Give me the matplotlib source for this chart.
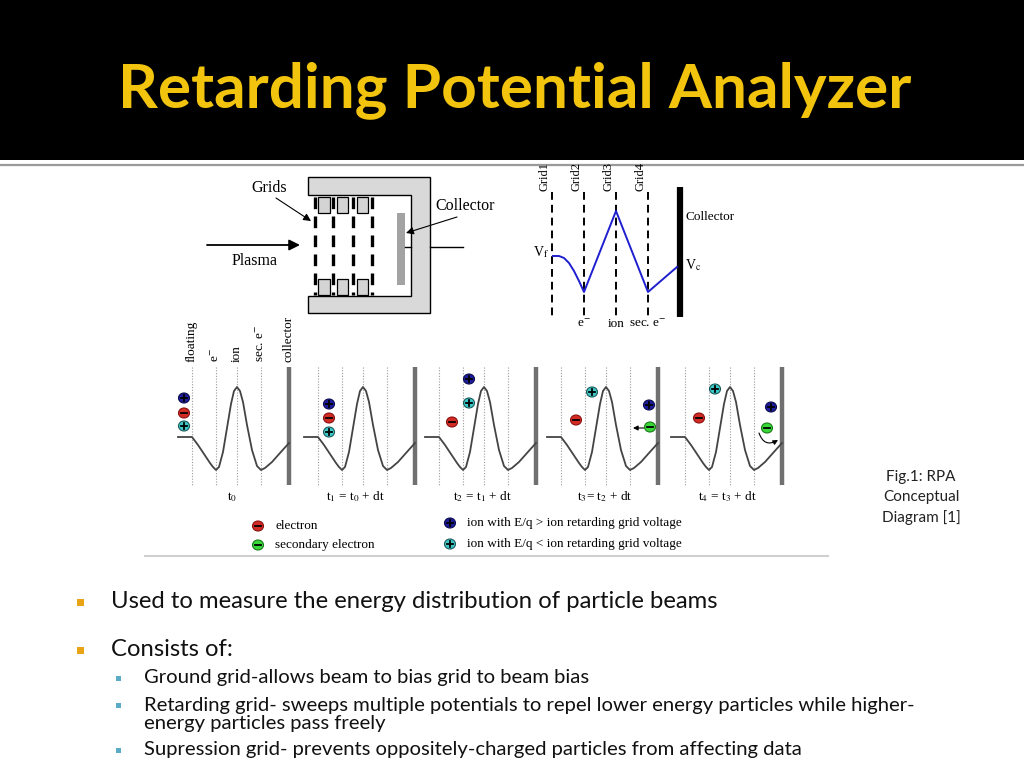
"""Slide: Retarding Potential Analyzer, with the RPA conceptual diagram."""
import matplotlib
matplotlib.use("Agg")
import matplotlib.pyplot as plt
import matplotlib.patches as mpatches

plt.rcParams["mathtext.fontset"] = "stix"

SANS = "Lato"
SERIF = "Liberation Serif"

# ---- slide text -------------------------------------------------------------
TITLE = "Retarding Potential Analyzer"
BULLETS = ["Used to measure the energy distribution of particle beams",
           "Consists of:"]
BULLET_Y = [602, 650]
SUB_BULLETS = ["Ground grid-allows beam to bias grid to beam bias",
               "Retarding grid- sweeps multiple potentials to repel lower energy particles while higher-",
               "energy particles pass freely",
               "Supression grid- prevents oppositely-charged particles from affecting data"]
SUB_Y = [678, 705, 724, 750]
SUB_MARK = [True, True, False, True]
CAPTION = ["Fig.1: RPA", "Conceptual", "Diagram [1]"]
CAPTION_Y = [477, 497, 518]

# ---- schematic (top left), slide pixels ------------------------------------
HOUSING_X = [308, 430, 430, 308, 308, 411, 411, 308]
HOUSING_Y = [177, 177, 313, 313, 296, 296, 195, 195]
GRID_X = [315, 333, 353, 372]
INSUL_X0 = [318, 337, 357]
INSUL_X1 = [330, 348, 368]

# ---- potential profile (top right) -----------------------------------------
PROF_GRID_X = [552, 584, 616, 648]
PROF_GRID_LABEL = ["Grid1", "Grid2", "Grid3", "Grid4"]
PROF_BOTTOM_LABEL = [None, r"e$^{-}$", "ion", r"sec. e$^{-}$"]
PROF_X = [553, 559, 564, 569, 574, 579, 584, 616, 648, 677]
PROF_Y = [256, 256, 258, 263, 271, 281, 292, 211, 292, 267]

# ---- time-step panels (bottom) ---------------------------------------------
PANEL_X = [192, 318, 439, 561, 685]
LINE_DX = [0, 24, 45, 69]
COLLECTOR_DX = 97
WAVE_DX = [-14, 0, 6, 12, 18, 21, 24, 27, 31, 35, 39, 42, 45, 48, 51, 55,
           60, 65, 69, 73, 80, 88, 97]
WAVE_Y = [437, 437, 445, 454, 463, 467, 470, 467, 452, 428, 404, 391, 387,
          391, 402, 425, 450, 466, 470, 468, 462, 453, 443]
PANEL1_LABELS = ["floating", r"e$^{-}$", "ion", r"sec. e$^{-}$"]
TIME_LABELS = [r"t$_0$", r"t$_1$ = t$_0$ + dt", r"t$_2$ = t$_1$ + dt",
               r"t$_3$= t$_2$ + dt", r"t$_4$ = t$_3$ + dt"]
TIME_X = [232, 355, 482, 605, 727]

# particles: x, y, kind
PART_X = [184, 184, 184, 329, 329, 329, 469, 469, 452, 592, 576, 649, 650,
          715, 699, 771, 767]
PART_Y = [398, 413, 426, 404, 418, 432, 379, 403, 422, 392, 420, 405, 427,
          389, 418, 407, 428]
PART_KIND = ["fast", "e", "slow", "fast", "e", "slow", "fast", "slow", "e",
             "slow", "e", "fast", "sec", "slow", "e", "fast", "sec"]

LEGEND_X = [258, 258, 450, 450]
LEGEND_Y = [526, 545, 523, 544]
LEGEND_KIND = ["e", "sec", "fast", "slow"]
LEGEND_LABEL = ["electron", "secondary electron",
                "ion with E/q > ion retarding grid voltage",
                "ion with E/q < ion retarding grid voltage"]

KIND_FACE = {"e": "#d42a24", "sec": "#38d838", "fast": "#1c1c9c", "slow": "#3cc8c8"}
KIND_EDGE = {"e": "#8a1010", "sec": "#1a7a1a", "fast": "#0a0a50", "slow": "#1a5a5a"}
KIND_SIGN = {"e": "-", "sec": "-", "fast": "+", "slow": "+"}


def fit_text(ax, x, y, s, width, **kw):
    t = ax.text(x, y, s, **kw)
    r = ax.figure.canvas.get_renderer()
    w = t.get_window_extent(r).width
    t.set_fontsize(t.get_fontsize() * width / w)
    return t


def particle(ax, x, y, kind):
    ax.add_patch(mpatches.Ellipse((x, y), 11, 10, facecolor=KIND_FACE[kind],
                                  edgecolor=KIND_EDGE[kind], lw=0.8, zorder=5))
    ax.plot([x - 3, x + 3], [y, y], color="k", lw=1.3, zorder=6)
    if KIND_SIGN[kind] == "+":
        ax.plot([x, x], [y - 3, y + 3], color="k", lw=1.3, zorder=6)


def arrow(ax, start, end, lw=1.0, scale=10, rad=0.0):
    ax.annotate("", xy=end, xytext=start,
                arrowprops=dict(arrowstyle="-|>", color="k", lw=lw,
                                mutation_scale=scale, shrinkA=0, shrinkB=0,
                                connectionstyle=f"arc3,rad={rad}"))


def draw_schematic(ax):
    ax.add_patch(mpatches.Polygon(list(zip(HOUSING_X, HOUSING_Y)), closed=True,
                                  facecolor="#d9d9d9", edgecolor="k", lw=1.0))
    for x0, x1 in zip(INSUL_X0, INSUL_X1):
        for y0, y1 in [(197, 213), (279, 295)]:
            ax.add_patch(mpatches.Rectangle((x0, y0), x1 - x0, y1 - y0,
                                            facecolor="#d4d4d4", edgecolor="k", lw=0.9))
    for gx in GRID_X:
        ax.plot([gx, gx], [197, 295], color="k", lw=2.4, dashes=(3.5, 2.2))
    ax.add_patch(mpatches.Rectangle((397, 213), 8, 72, facecolor="#a3a3a3", edgecolor="none"))
    ax.plot([405, 411], [247, 247], color="k", lw=1.0)
    ax.plot([430, 463], [247, 247], color="k", lw=1.0)
    arrow(ax, (207, 245), (300, 245), lw=1.3, scale=16)
    arrow(ax, (276, 198), (311, 221), lw=0.8, scale=11)
    arrow(ax, (457, 217), (406, 233), lw=0.8, scale=11)
    ax.text(232, 261, "Plasma", family=SERIF, fontsize=11.5, va="center")
    ax.text(251, 188, "Grids", family=SERIF, fontsize=11.5, va="center")
    ax.text(435, 206, "Collector", family=SERIF, fontsize=11.5, va="center")


def draw_profile(ax):
    for gx, lab, blab in zip(PROF_GRID_X, PROF_GRID_LABEL, PROF_BOTTOM_LABEL):
        ax.plot([gx, gx], [192, 317], color="k", lw=1.4, dashes=(4, 2.6))
        ax.text(gx - 8, 191, lab, family=SERIF, fontsize=9, rotation=90,
                ha="center", va="bottom")
        if blab:
            ax.text(gx, 324, blab, family=SERIF, fontsize=9.5, ha="center", va="center")
    ax.plot([680, 680], [187, 317], color="k", lw=4.5, solid_capstyle="butt")
    ax.plot(PROF_X, PROF_Y, color="#1f1fd0", lw=1.4)
    ax.text(686, 217, "Collector", family=SERIF, fontsize=9.5, va="center")
    ax.text(533, 252, r"V$_{\rm f}$", family=SERIF, fontsize=10, va="center")
    ax.text(685, 265, r"V$_{\rm c}$", family=SERIF, fontsize=10, va="center")


def draw_panels(ax):
    for k, px in enumerate(PANEL_X):
        for dx in LINE_DX:
            ax.plot([px + dx, px + dx], [367, 485], color="#9a9a9a", lw=0.8,
                    dashes=(1, 1.5))
        cx = px + COLLECTOR_DX
        ax.plot([cx, cx], [367, 485], color="#707070", lw=3.2, solid_capstyle="butt")
        ax.plot([px + d for d in WAVE_DX], WAVE_Y, color="#444444", lw=1.3)
        ax.text(TIME_X[k], 497, TIME_LABELS[k], family=SERIF, fontsize=9.5,
                ha="center", va="center")
    for dx, lab in zip(LINE_DX, PANEL1_LABELS):
        ax.text(PANEL_X[0] + dx, 362, lab, family=SERIF, fontsize=9.5, rotation=90,
                ha="center", va="bottom")
    ax.text(PANEL_X[0] + COLLECTOR_DX, 362, "collector", family=SERIF, fontsize=9.5,
            rotation=90, ha="center", va="bottom")
    for x, y, kind in zip(PART_X, PART_Y, PART_KIND):
        particle(ax, x, y, kind)
    arrow(ax, (644, 428), (633, 428), lw=0.8, scale=7)
    arrow(ax, (759, 433), (778, 440), lw=0.8, scale=7, rad=0.6)
    for x, y, kind, lab in zip(LEGEND_X, LEGEND_Y, LEGEND_KIND, LEGEND_LABEL):
        particle(ax, x, y, kind)
        ax.text(x + 17, y, lab, family=SERIF, fontsize=9.5, va="center")


def main():
    fig = plt.figure(figsize=(10.24, 7.68), dpi=100)
    fig.patch.set_facecolor("white")
    ax = fig.add_axes([0, 0, 1, 1])
    ax.set_xlim(0, 1024)
    ax.set_ylim(768, 0)
    ax.axis("off")

    # header band
    ax.add_patch(mpatches.Rectangle((0, 0), 1024, 160, facecolor="black", edgecolor="none"))
    ax.plot([0, 1024], [164.5, 164.5], color="#9a9a9a", lw=1.6)
    fit_text(ax, 515, 107, TITLE, 794, family=SANS, fontweight="bold",
             fontsize=42, color="#f2c40e", ha="center", va="baseline")

    draw_schematic(ax)
    draw_profile(ax)
    draw_panels(ax)
    ax.plot([145, 828], [556, 556], color="#d0d0d0", lw=1.5)

    # caption
    for s, y in zip(CAPTION, CAPTION_Y):
        ax.text(921, y, s, family=SANS, fontsize=11, ha="center", va="center",
                color="#222222")

    # bullets
    t0 = fit_text(ax, 111, BULLET_Y[0], BULLETS[0], 611, family=SANS, fontsize=14,
                  va="center", color="#111111")
    for s, y in zip(BULLETS[1:], BULLET_Y[1:]):
        ax.text(111, y, s, family=SANS, fontsize=t0.get_fontsize(), va="center",
                color="#111111")
    for y in BULLET_Y:
        ax.add_patch(mpatches.Rectangle((76.5, y - 3.5), 7, 7, facecolor="#e8a317",
                                        edgecolor="none"))
    # size the sub-bullets on the long line so it ends where the slide's does
    t1 = fit_text(ax, 144, SUB_Y[1], SUB_BULLETS[1], 770, family=SANS, fontsize=12,
                  va="center", color="#111111")
    for i, (s, y) in enumerate(zip(SUB_BULLETS, SUB_Y)):
        if i == 1:
            continue
        ax.text(144, y, s, family=SANS, fontsize=t1.get_fontsize(), va="center",
                color="#111111")
    for y, mark in zip(SUB_Y, SUB_MARK):
        if mark:
            ax.add_patch(mpatches.Rectangle((115.5, y - 2.5), 5, 5, facecolor="#5aaac8",
                                            edgecolor="none"))

    fig.savefig("out.png", dpi=100)
    plt.close(fig)


if __name__ == "__main__":
    main()
